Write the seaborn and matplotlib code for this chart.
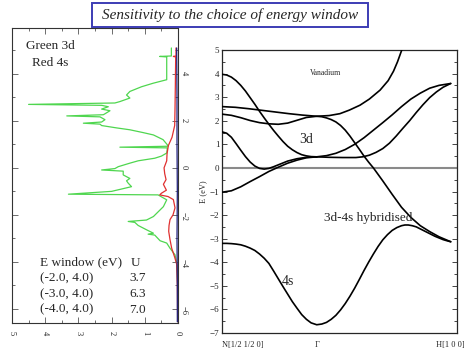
import numpy as np
import pandas as pd
import seaborn as sns
import matplotlib.pyplot as plt
from matplotlib.ticker import MultipleLocator
from matplotlib.patches import Rectangle

# ---- band structure, path N - Gamma - H (k in units of 2pi/a) ----
k_N, k_G, k_H = 0.0, 0.707, 1.707

band_a_k = [0.0, 0.035, 0.07, 0.105, 0.14, 0.175, 0.21, 0.245, 0.28, 0.315, 0.35, 0.385, 0.42, 0.455,
            0.49, 0.525, 0.56, 0.595, 0.63, 0.665, 0.707]
band_a_e = [3.97, 3.94, 3.85, 3.7, 3.5, 3.26, 2.98, 2.7, 2.4, 2.12, 1.85, 1.59, 1.35, 1.12,
            0.92, 0.77, 0.65, 0.56, 0.51, 0.48, 0.47]

band_b_k = [0.0, 0.1, 0.2, 0.3, 0.4, 0.5, 0.6, 0.707, 0.8, 0.88, 0.95, 1.03, 1.1, 1.18, 1.24, 1.28, 1.31, 1.345]
band_b_e = [2.6, 2.57, 2.51, 2.44, 2.37, 2.3, 2.24, 2.19, 2.22, 2.3, 2.45, 2.66, 2.92, 3.3, 3.7, 4.1, 4.5, 5.05]

band_c_k = [0.0, 0.07, 0.14, 0.21, 0.28, 0.35, 0.42, 0.49, 0.56, 0.63, 0.707, 0.745, 0.78, 0.815, 0.85,
            0.885, 0.92, 0.955, 0.99, 1.025, 1.06, 1.095, 1.13, 1.2, 1.27, 1.34, 1.41, 1.48, 1.55, 1.62, 1.707]
band_c_e = [2.28, 2.23, 2.13, 2.01, 1.92, 1.87, 1.85, 1.9, 2.02, 2.14, 2.19, 2.17, 2.12, 2.05, 1.95,
            1.8, 1.6, 1.35, 1.07, 0.79, 0.5, 0.24, 0.0, -0.55, -1.12, -1.67, -2.1, -2.45, -2.7, -2.92, -3.13]

band_d_k = [0.0, 0.035, 0.07, 0.105, 0.14, 0.175, 0.21, 0.245, 0.28, 0.315, 0.35, 0.385, 0.42, 0.455,
            0.49, 0.56, 0.63, 0.707]
band_d_e = [1.53, 1.47, 1.3, 1.03, 0.75, 0.48, 0.25, 0.08, -0.02, -0.05, -0.02, 0.05, 0.13, 0.21,
            0.29, 0.39, 0.45, 0.47]

band_e_k = [0.0, 0.07, 0.14, 0.21, 0.28, 0.35, 0.42, 0.49, 0.56, 0.63, 0.707]
band_e_e = [-1.03, -0.97, -0.8, -0.58, -0.37, -0.15, 0.03, 0.2, 0.33, 0.43, 0.47]

band_f_k = [0.707, 0.78, 0.85, 0.92, 0.99, 1.06, 1.13, 1.2, 1.27, 1.34, 1.41, 1.48, 1.55, 1.62, 1.707]
band_f_e = [0.47, 0.52, 0.62, 0.78, 1.0, 1.28, 1.6, 1.92, 2.25, 2.6, 2.92, 3.17, 3.38, 3.5, 3.58]

band_g_k = [0.707, 0.8, 0.9, 1.0, 1.05, 1.1, 1.15, 1.2, 1.25, 1.3, 1.35, 1.4, 1.45, 1.5, 1.55, 1.6, 1.65, 1.707]
band_g_e = [0.47, 0.45, 0.44, 0.44, 0.47, 0.54, 0.66, 0.82, 1.05, 1.35, 1.68, 2.0, 2.35, 2.68, 2.98, 3.22, 3.42, 3.58]

band_s_k = [0.0, 0.035, 0.07, 0.105, 0.14, 0.175, 0.21, 0.245, 0.28, 0.315, 0.35, 0.385, 0.42, 0.455,
            0.49, 0.525, 0.56, 0.595, 0.63, 0.665, 0.707, 0.745, 0.78, 0.815, 0.85, 0.885, 0.92, 0.955,
            0.99, 1.025, 1.06, 1.095, 1.13, 1.165, 1.2, 1.235, 1.27, 1.305, 1.34, 1.365, 1.39, 1.42,
            1.45, 1.485, 1.52, 1.555, 1.59, 1.62, 1.65, 1.68, 1.707]
band_s_e = [-3.2, -3.2, -3.21, -3.23, -3.26, -3.32, -3.4, -3.5, -3.65, -3.83, -4.05, -4.37, -4.7, -5.03,
            -5.35, -5.67, -5.95, -6.22, -6.42, -6.57, -6.65, -6.62, -6.55, -6.42, -6.25, -6.02, -5.75, -5.44,
            -5.1, -4.73, -4.35, -3.99, -3.65, -3.33, -3.05, -2.83, -2.65, -2.53, -2.45, -2.42, -2.42, -2.45,
            -2.5, -2.6, -2.7, -2.8, -2.9, -2.97, -3.04, -3.09, -3.13]

# ---- projected DOS (energy in eV, DOS in states/eV) ----
green_e = [5.1, 4.76, 4.74, 4.72, 3.75, 3.6, 3.45, 3.25, 3.1, 2.97, 2.82, 2.76, 2.70, 2.66, 2.6, 2.5, 2.43,
           2.3, 2.26, 2.21, 2.17, 2.05, 1.95, 1.9, 1.86, 1.8, 1.7, 1.62, 1.5, 1.4, 1.2, 0.98, 0.92, 0.88,
           0.85, 0.63, 0.5, 0.41, 0.3, 0.2, 0.05, -0.03, -0.09, -0.14, -0.3, -0.45, -0.55, -0.65, -0.8,
           -1.0, -1.12, -1.15, -1.36, -1.65, -2.07, -2.22, -2.28, -2.32, -2.45, -2.64, -2.78, -2.82,
           -2.86, -3.1, -3.2, -3.42, -3.7, -4.06, -4.5, -5.0, -6.55]
green_dos = [0.2, 0.2, 0.55, 0.34, 0.34, 0.75, 1.1, 1.45, 1.55, 1.45, 1.75, 1.9, 4.5, 2.3, 2.1, 2.3, 2.05,
             2.2, 2.25, 3.35, 2.35, 2.2, 2.3, 2.85, 2.35, 2.3, 1.85, 1.45, 1.05, 0.74, 0.45, 0.32, 0.3, 1.75,
             0.32, 0.34, 0.5, 0.7, 1.2, 1.45, 1.8, 1.9, 2.3, 1.65, 1.65, 1.45, 1.55, 1.5, 1.4,
             2.0, 3.3, 0.6, 0.34, 0.44, 0.74, 0.95, 1.5, 1.3, 1.2, 0.94, 0.74, 0.9,
             0.7, 0.54, 0.34, 0.24, 0.09, 0.04, 0.02, 0.01, 0.0]

red_e = [5.1, 4.76, 4.74, 4.72, 3.5, 2.5, 1.8, 1.3, 0.95, 0.6, 0.3, 0.0, -0.25, -0.5, -0.7, -0.95, -1.08,
         -1.15, -1.22, -1.35, -1.7, -2.0, -2.2, -2.45, -2.7, -3.06, -3.42, -3.8, -4.1, -5.0, -6.55]
red_dos = [0.06, 0.06, 0.14, 0.07, 0.08, 0.09, 0.1, 0.18, 0.29, 0.33, 0.34, 0.42, 0.4, 0.36, 0.44, 0.35, 0.5,
           0.55, 0.3, 0.14, 0.09, 0.15, 0.24, 0.27, 0.28, 0.24, 0.19, 0.1, 0.04, 0.02, 0.01]

blue_e = [5.1, 3.0, 1.0, -1.0, -3.0, -5.0, -6.55]
blue_dos = [0.04, 0.03, 0.03, 0.02, 0.03, 0.02, 0.02]

windows = ["(-2.0, 4.0)", "(-3.0, 4.0)", "(-4.0, 4.0)"]
u_values = ["3.7", "6.3", "7.0"]

sns.set_style("ticks")
plt.rcParams["font.family"] = ["Liberation Serif", "DejaVu Serif"]

fig = plt.figure(figsize=(4.74, 3.55), dpi=100)

# title box
fig.patches.append(Rectangle((92 / 474, 1 - 27 / 355), 276 / 474, 24 / 355, transform=fig.transFigure,
                             fill=True, facecolor="white", edgecolor="#3c3cb4", lw=1.4, zorder=5))
fig.text(230 / 474, 1 - 15.5 / 355, "Sensitivity to the choice of energy window", ha="center", va="center",
         fontsize=11, style="italic", zorder=6)

# ---- left panel: DOS ----
ax_d = fig.add_axes([12 / 474, 1 - 323 / 355, 166 / 474, 295 / 355])
dos_df = pd.concat([
    pd.DataFrame({"E": green_e, "dos": green_dos, "orb": "3d"}),
    pd.DataFrame({"E": red_e, "dos": red_dos, "orb": "4s"}),
    pd.DataFrame({"E": blue_e, "dos": blue_dos, "orb": "4p"}),
])
sns.lineplot(data=dos_df, x="dos", y="E", hue="orb", sort=False, estimator=None, legend=False,
             palette={"3d": "#4fd64f", "4s": "#e03030", "4p": "#202080"}, lw=0.9, ax=ax_d)
ax_d.set_xlim(5, 0)
ax_d.set_ylim(-6.6, 5.95)
ax_d.set_xlabel("")
ax_d.set_ylabel("")
ax_d.xaxis.set_major_locator(MultipleLocator(1))
ax_d.xaxis.set_minor_locator(MultipleLocator(0.5))
ax_d.yaxis.set_major_locator(MultipleLocator(2))
ax_d.yaxis.set_minor_locator(MultipleLocator(1))
ax_d.tick_params(which="both", direction="in", top=True, right=True, left=True, bottom=True,
                 labelleft=False, labelright=True, width=0.6, color="#555555")
ax_d.tick_params(which="major", length=4)
ax_d.tick_params(which="minor", length=2.5)
ax_d.tick_params(axis="x", labelsize=6, labelrotation=-90, pad=6)
ax_d.tick_params(axis="y", labelsize=6, labelrotation=-90, pad=1.5)
for s in ax_d.spines.values():
    s.set_linewidth(0.8)
    s.set_color("#333333")

fig.text(50 / 474, 1 - 46 / 355, "Green 3d", ha="center", va="center", fontsize=9.5)
fig.text(50 / 474, 1 - 63 / 355, "Red 4s", ha="center", va="center", fontsize=9.5)
fig.text(40 / 474, 1 - 262.5 / 355, "E window (eV)", ha="left", va="center", fontsize=9.5)
fig.text(131 / 474, 1 - 262.5 / 355, "U", ha="left", va="center", fontsize=9.5)
for i, (w, u) in enumerate(zip(windows, u_values)):
    yy = 1 - (278 + 15.8 * i) / 355
    fig.text(40 / 474, yy, w, ha="left", va="center", fontsize=9.5)
    fig.text(129 / 474, yy, u, ha="left", va="center", fontsize=9.5)

# ---- right panel: bands ----
ax_b = fig.add_axes([222 / 474, 1 - 333 / 355, 235 / 474, 283 / 355])
bands = [
    ("a", band_a_k, band_a_e), ("b", band_b_k, band_b_e), ("c", band_c_k, band_c_e),
    ("d", band_d_k, band_d_e), ("e", band_e_k, band_e_e), ("f", band_f_k, band_f_e),
    ("g", band_g_k, band_g_e), ("s", band_s_k, band_s_e),
]
band_df = pd.concat([pd.DataFrame({"k": k, "E": e, "band": n}) for n, k, e in bands])
ax_b.axhline(0, color="#8a8a8a", lw=1.5, zorder=1)
sns.lineplot(data=band_df, x="k", y="E", units="band", estimator=None, sort=False, color="black",
             lw=1.2, ax=ax_b, zorder=3)
ax_b.set_xlim(0, 1.754)
ax_b.set_ylim(-7, 5)
ax_b.set_xlabel("")
ax_b.set_ylabel("E (eV)", fontsize=6, labelpad=2)
ax_b.set_xticks([k_N, k_G, k_H])
ax_b.set_xticklabels(["N[1/2 1/2 0]", "Γ", "H[1 0 0]"])
for lab, ha in zip(ax_b.get_xticklabels(), ["left", "center", "center"]):
    lab.set_horizontalalignment(ha)
ax_b.tick_params(axis="x", length=0, labelsize=6, pad=6)
ax_b.yaxis.set_major_locator(MultipleLocator(1))
ax_b.yaxis.set_minor_locator(MultipleLocator(0.5))
ax_b.tick_params(axis="y", which="both", direction="in", left=True, right=True, labelsize=6.5, pad=2,
                 width=0.6)
ax_b.tick_params(axis="y", which="major", length=3.5)
ax_b.tick_params(axis="y", which="minor", length=2)
for s in ax_b.spines.values():
    s.set_linewidth(0.9)

ax_b.text(0.77, 4.03, "Vanadium", ha="center", va="center", fontsize=5.5)
ax_b.text(0.63, 1.19, "3d", ha="center", va="center", fontsize=10)
ax_b.text(1.09, -2.12, "3d-4s hybridised", ha="center", va="center", fontsize=9.5)
ax_b.text(0.49, -4.83, "4s", ha="center", va="center", fontsize=10)

fig.savefig("out.png", dpi=100)
